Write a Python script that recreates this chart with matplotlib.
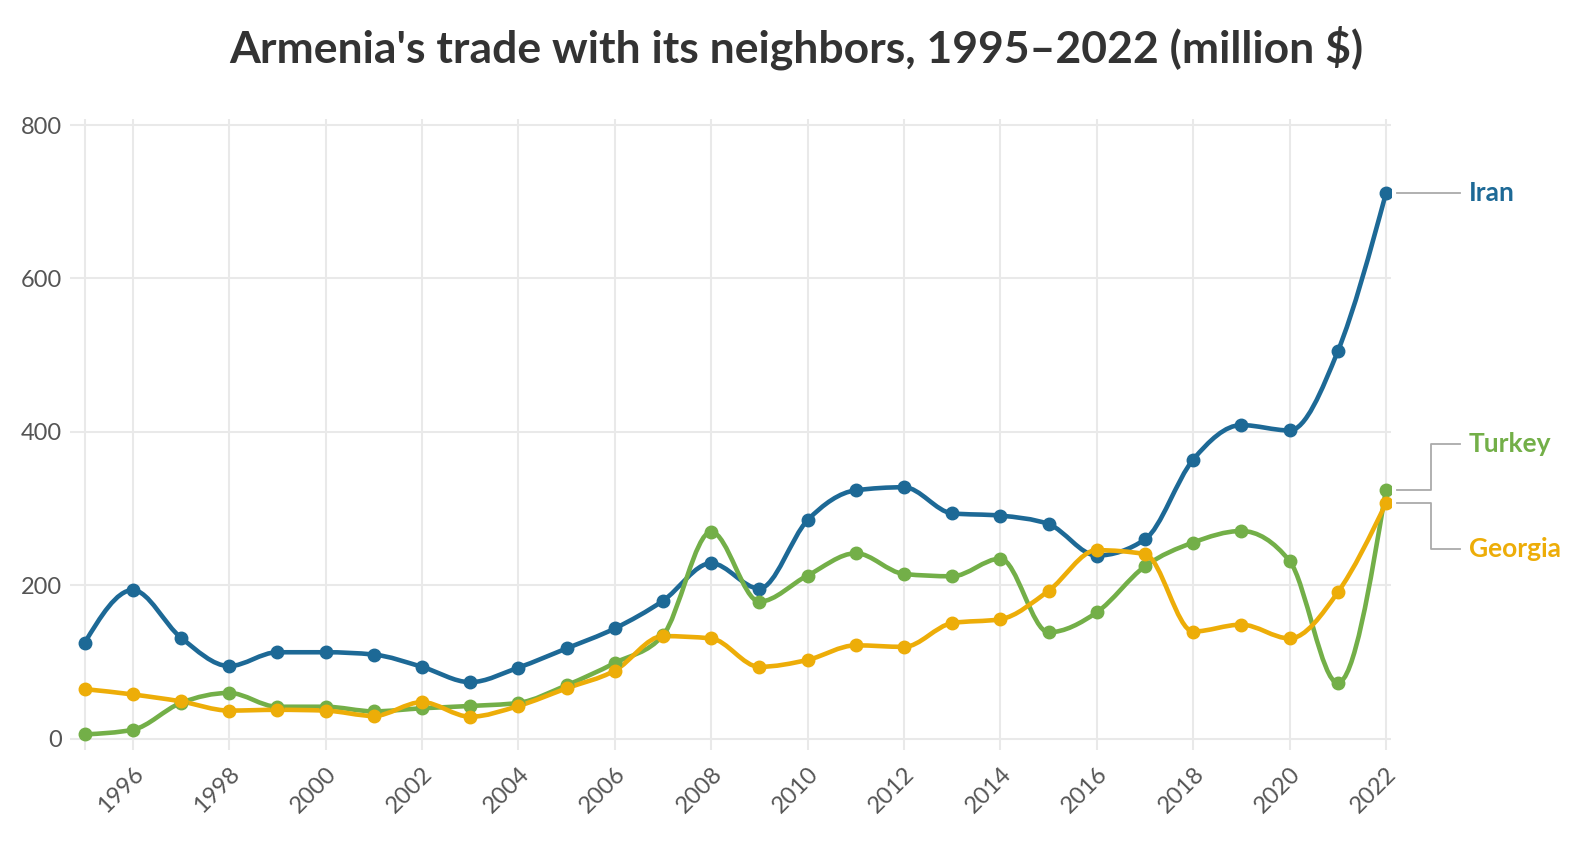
import numpy as np
import matplotlib.pyplot as plt
from matplotlib.path import Path
from matplotlib.patches import PathPatch

plt.rcParams['font.family'] = ['Lato', 'DejaVu Sans']

# dati (milioni di $)
years = list(range(1995, 2023))
iran = [125, 194, 132, 95, 113, 113, 110, 94, 74, 93,
        118, 144, 180, 229, 196, 285, 324, 328, 294, 291,
        280, 239, 260, 364, 409, 402, 505, 711]
turkey = [6, 12, 47, 60, 42, 42, 36, 40, 43, 47,
          70, 99, 135, 270, 179, 213, 242, 215, 212, 235,
          139, 165, 225, 256, 271, 232, 73, 325]
georgia = [65, 58, 49, 37, 38, 37, 30, 48, 29, 43,
           66, 89, 134, 131, 94, 103, 122, 120, 151, 156,
           193, 246, 241, 140, 149, 131, 191, 307]

series = [("Iran", iran, "#1d6996", 711),
          ("Turkey", turkey, "#73af48", 384),
          ("Georgia", georgia, "#edad08", 247)]


def monotone_path(xs, ys):
    # curva monotona (come d3.curveMonotoneX) fatta di bezier cubiche
    x = np.asarray(xs, float)
    y = np.asarray(ys, float)
    h = np.diff(x)
    s = np.diff(y) / h
    t = np.zeros(len(x))
    for i in range(1, len(x) - 1):
        p = (s[i - 1] * h[i] + s[i] * h[i - 1]) / (h[i - 1] + h[i])
        t[i] = (np.sign(s[i - 1]) + np.sign(s[i])) * min(abs(s[i - 1]), abs(s[i]), 0.5 * abs(p))
    t[0] = (3 * s[0] - t[1]) / 2
    t[-1] = (3 * s[-1] - t[-2]) / 2
    verts = [(x[0], y[0])]
    codes = [Path.MOVETO]
    for i in range(len(x) - 1):
        d = h[i] / 3
        verts += [(x[i] + d, y[i] + d * t[i]),
                  (x[i + 1] - d, y[i + 1] - d * t[i + 1]),
                  (x[i + 1], y[i + 1])]
        codes += [Path.CURVE4] * 3
    return Path(verts, codes)


fig = plt.figure(figsize=(15.92, 8.46), dpi=100)
ax = fig.add_axes([0.044, 0.1129, 0.8296, 0.7466])

for name, vals, color, label_y in series:
    patch = PathPatch(monotone_path(years, vals), facecolor="none",
                      edgecolor=color, lw=3.3, zorder=3, capstyle="round")
    ax.add_patch(patch)
    ax.plot(years, vals, "o", color=color, markersize=9, zorder=4)

    # etichetta a destra con linea di collegamento
    x0 = years[-1]
    y0 = vals[-1]
    ax.plot([x0 + 0.23, x0 + 0.93, x0 + 0.93, x0 + 1.54],
            [y0, y0, label_y, label_y], color="#aaaaaa", lw=1.3,
            clip_on=False, zorder=2)
    ax.text(x0 + 1.72, label_y, name, color=color, fontsize=19,
            fontweight="bold", va="center", ha="left", clip_on=False)

ax.set_xlim(1994.7, 2022.1)
ax.set_ylim(-15, 808)
ax.set_yticks([0, 200, 400, 600, 800])
ax.set_xticks(list(range(1996, 2023, 2)))
ax.set_xticks([1995], minor=True)
ax.tick_params(axis="x", which="both", length=0, pad=9, labelsize=17,
               labelcolor="#555555", labelrotation=45)
ax.tick_params(axis="y", length=0, pad=6, labelsize=17, labelcolor="#555555")
for lab in ax.get_xticklabels():
    lab.set_ha("right")
    lab.set_rotation_mode("anchor")

ax.grid(True, which="both", color="#e9e9e9", lw=1.5, zorder=0)
ax.set_axisbelow(True)
for s in ax.spines.values():
    s.set_visible(False)

fig.suptitle("Armenia's trade with its neighbors, 1995–2022 (million $)",
             x=0.5, y=0.97, fontsize=32, fontweight="bold", color="#333333")

fig.savefig("out.png", dpi=100)
